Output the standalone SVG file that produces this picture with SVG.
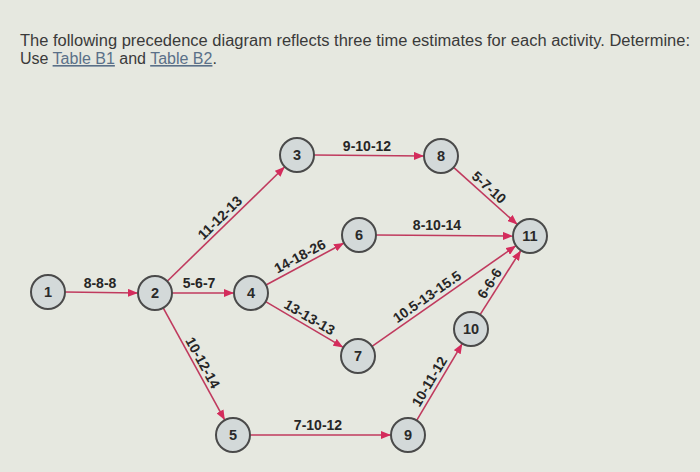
<svg xmlns="http://www.w3.org/2000/svg" width="700" height="472" viewBox="0 0 700 472">
<defs>
<marker id="ah" viewBox="0 0 10 8" refX="10" refY="4" markerWidth="10" markerHeight="8" markerUnits="userSpaceOnUse" orient="auto">
<path d="M0,0 L10,4 L0,8 Z" fill="#d42c5c"/>
</marker>
<style>
.bg{fill:#e6e8e0}
.t{font-family:"Liberation Sans",Arial,sans-serif;font-size:16px;fill:#3a3a3a}
.lk{fill:#5a7088;text-decoration:underline}
.n circle{fill:#d3d9d9;stroke:#4a4a4a;stroke-width:2}
.n text{font-family:"Liberation Sans",Arial,sans-serif;font-size:14.5px;font-weight:bold;fill:#2a2a2a;text-anchor:middle}
.e line{stroke:#c03a5e;stroke-width:1.6;marker-end:url(#ah)}
.lb{font-family:"Liberation Sans",Arial,sans-serif;font-size:14px;font-weight:bold;fill:#262626;text-anchor:middle}
</style>
</defs>
<rect class="bg" x="0" y="0" width="700" height="472"/>
<text class="t" x="20" y="46" textLength="670" lengthAdjust="spacingAndGlyphs">The following precedence diagram reflects three time estimates for each activity. Determine:</text>
<text class="t" x="20" y="64">Use <tspan class="lk">Table B1</tspan> and <tspan class="lk">Table B2</tspan>.</text>
<g id="connectors" class="e">
<line x1="65" y1="292" x2="138" y2="293"/>
<line x1="172" y1="293" x2="234" y2="293"/>
<line x1="167.2" y1="281.2" x2="284.8" y2="166.8"/>
<line x1="314" y1="155" x2="424" y2="156"/>
<line x1="266" y1="285" x2="344" y2="243"/>
<line x1="265.7" y1="301.6" x2="343.3" y2="347.4"/>
<line x1="163.2" y1="307.9" x2="224.8" y2="420.1"/>
<line x1="250" y1="435" x2="391" y2="435"/>
<line x1="376" y1="235" x2="513" y2="236"/>
<line x1="453.6" y1="167.4" x2="517.4" y2="224.6"/>
<line x1="372" y1="346.3" x2="516" y2="245.7"/>
<line x1="416.7" y1="420.4" x2="462.3" y2="343.6"/>
<line x1="480.1" y1="314.6" x2="520.9" y2="250.4"/>
</g>
<g id="labels">
<text class="lb" x="100" y="288">8-8-8</text>
<text class="lb" x="199" y="288">5-6-7</text>
<text class="lb" x="367" y="151">9-10-12</text>
<text class="lb" x="437" y="230">8-10-14</text>
<text class="lb" x="318" y="430">7-10-12</text>
<text class="lb" transform="translate(226,224) rotate(-44.2)" x="0" y="-4">11-12-13</text>
<text class="lb" transform="translate(304,264) rotate(-28.2)" x="0" y="-4">14-18-26</text>
<text class="lb" transform="translate(305,325) rotate(30.5)" x="0" y="-4">13-13-13</text>
<text class="lb" transform="translate(195,367) rotate(61.2)" x="0" y="-4">10-12-14</text>
<text class="lb" transform="translate(483,194) rotate(42)" x="0" y="-4">5-7-10</text>
<text class="lb" transform="translate(432,304) rotate(-34.9)" x="0" y="-4">10.5-13-15.5</text>
<text class="lb" transform="translate(497,288) rotate(-57.6)" x="0" y="-4">6-6-6</text>
<text class="lb" transform="translate(437,386) rotate(-59.3)" x="0" y="-4">10-11-12</text>
</g>
<g id="n1" class="n"><circle cx="48" cy="292" r="17"/><text x="48" y="297">1</text></g>
<g id="n2" class="n"><circle cx="155" cy="293" r="17"/><text x="155" y="298">2</text></g>
<g id="n3" class="n"><circle cx="297" cy="155" r="17"/><text x="297" y="160">3</text></g>
<g id="n4" class="n"><circle cx="251" cy="293" r="17"/><text x="251" y="298">4</text></g>
<g id="n5" class="n"><circle cx="233" cy="435" r="17"/><text x="233" y="440">5</text></g>
<g id="n6" class="n"><circle cx="359" cy="235" r="17"/><text x="359" y="240">6</text></g>
<g id="n7" class="n"><circle cx="358" cy="356" r="17"/><text x="358" y="361">7</text></g>
<g id="n8" class="n"><circle cx="441" cy="156" r="17"/><text x="441" y="161">8</text></g>
<g id="n9" class="n"><circle cx="408" cy="435" r="17"/><text x="408" y="440">9</text></g>
<g id="n10" class="n"><circle cx="471" cy="329" r="17"/><text x="471" y="334">10</text></g>
<g id="n11" class="n"><circle cx="530" cy="236" r="17"/><text x="530" y="241">11</text></g>
</svg>
